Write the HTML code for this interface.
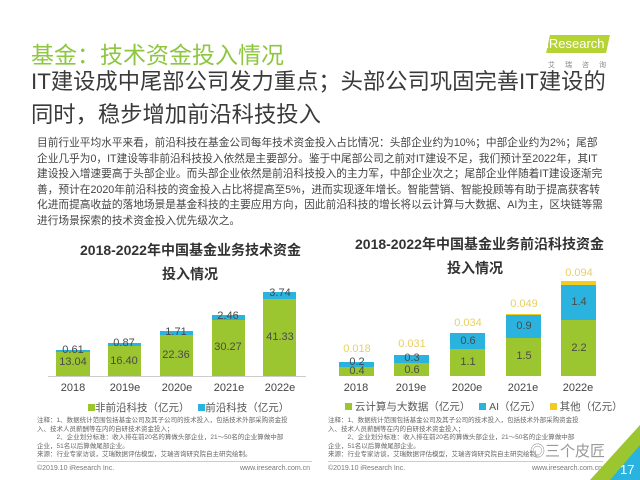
<!DOCTYPE html>
<html><head><meta charset="utf-8"><style>
*{margin:0;padding:0;box-sizing:border-box}
body{width:640px;height:480px;background:#fff;position:relative;overflow:hidden;font-family:"Liberation Sans","Noto Sans CJK SC",sans-serif;color:#404040}
.a{position:absolute;white-space:nowrap}
.bar{position:absolute}
.g{background:#9bc62f}.b{background:#2ab3de}.y{background:#f2cd20}
.v{position:absolute;font-size:11px;color:#4a4a4a;text-align:center;width:40px}
.xl{position:absolute;font-size:11px;color:#444;text-align:center;width:50px;top:382px}
.body div{height:15.6px;line-height:15.6px}
.note{font-size:6.5px;color:#666;line-height:8.5px}
</style></head><body>
<div class="a" style="left:31px;top:36px;font-size:23px;color:#8dc63f">基金：技术资金投入情况</div>
<div class="a" style="left:548px;top:35px;width:60px;height:18px;background:#b5d334;transform:skewX(-12deg)"></div>
<div class="a" style="left:546px;top:36px;font-size:13px;color:#fff">iResearch</div>
<div class="a" style="left:548px;top:60px;font-size:7px;color:#888;letter-spacing:10px">艾瑞咨询</div>
<div class="a" style="left:31px;top:65px;font-size:22.3px;color:#3a3a3a;line-height:33px">IT建设成中尾部公司发力重点；头部公司巩固完善IT建设的<br>同时，稳步增加前沿科技投入</div>
<div class="a body" style="left:37px;top:136px;font-size:10.7px;color:#444">
<div>目前行业平均水平来看，前沿科技在基金公司每年技术资金投入占比情况：头部企业约为10%；中部企业约为2%；尾部</div>
<div>企业几乎为0，IT建设等非前沿科技投入依然是主要部分。鉴于中尾部公司之前对IT建设不足，我们预计至2022年，其IT</div>
<div>建设投入增速要高于头部企业。而头部企业依然是前沿科技投入的主力军，中部企业次之；尾部企业伴随着IT建设逐渐完</div>
<div>善，预计在2020年前沿科技的资金投入占比将提高至5%，进而实现逐年增长。智能营销、智能投顾等有助于提高获客转</div>
<div>化进而提高收益的落地场景是基金科技的主要应用方向，因此前沿科技的增长将以云计算与大数据、AI为主，区块链等需</div>
<div>进行场景探索的技术资金投入优先级次之。</div>
</div>
<!-- left chart -->
<div class="a" style="left:80px;top:238px;width:220px;text-align:center;font-size:14px;font-weight:bold;color:#333;line-height:24px">2018-2022年中国基金业务技术资金<br>投入情况</div>
<div class="bar g" style="left:56px;top:352px;width:34px;height:24px"></div><div class="bar b" style="left:56px;top:350px;width:34px;height:2px"></div>
<div class="bar g" style="left:108px;top:346px;width:33px;height:30px"></div><div class="bar b" style="left:108px;top:343px;width:33px;height:3px"></div>
<div class="bar g" style="left:160px;top:335px;width:33px;height:41px"></div><div class="bar b" style="left:160px;top:331px;width:33px;height:4px"></div>
<div class="bar g" style="left:212px;top:320px;width:33px;height:56px"></div><div class="bar b" style="left:212px;top:315px;width:33px;height:5px"></div>
<div class="bar g" style="left:263px;top:299px;width:33px;height:77px"></div><div class="bar b" style="left:263px;top:292px;width:33px;height:7px"></div>
<div class="a" style="left:48px;top:376px;width:258px;height:1px;background:#ccc"></div>
<div class="v" style="left:53px;top:344px">0.61</div><div class="v" style="left:53px;top:356px">13.04</div>
<div class="v" style="left:104px;top:337px">0.87</div><div class="v" style="left:104px;top:355px">16.40</div>
<div class="v" style="left:156px;top:326px">1.71</div><div class="v" style="left:156px;top:349px">22.36</div>
<div class="v" style="left:208px;top:310px">2.46</div><div class="v" style="left:208px;top:341px">30.27</div>
<div class="v" style="left:260px;top:287px">3.74</div><div class="v" style="left:260px;top:331px">41.33</div>
<div class="xl" style="left:48px">2018</div><div class="xl" style="left:100px">2019e</div><div class="xl" style="left:152px">2020e</div><div class="xl" style="left:204px">2021e</div><div class="xl" style="left:255px">2022e</div>
<div class="a" style="left:88px;top:400px;font-size:10.5px;color:#555"><span style="display:inline-block;width:7px;height:7px;background:#9bc62f"></span>非前沿科技（亿元） &nbsp;&nbsp;<span style="display:inline-block;width:7px;height:7px;background:#2ab3de"></span>前沿科技（亿元）</div>
<div class="a note" style="left:37px;top:417px">注释：1、数据统计范围包括基金公司及其子公司的技术投入，包括技术外部采购资金投<br>入、技术人员薪酬等在内的自研技术资金投入；<br>　　　2、企业划分标准：收入排在前20名的算做头部企业，21～50名的企业算做中部<br>企业，51名以后算做尾部企业。<br>来源：行业专家访谈，艾瑞数据评估模型，艾瑞咨询研究院自主研究绘制。</div>
<div class="a" style="left:37px;top:461px;width:275px;height:1px;background:#ccc"></div>
<div class="a" style="left:37px;top:465px;font-size:7px;color:#777">©2019.10 iResearch Inc.</div>
<div class="a" style="left:240px;top:465px;font-size:7px;color:#777">www.iresearch.com.cn</div>
<!-- right chart -->
<div class="a" style="left:355px;top:232px;width:240px;text-align:center;font-size:14px;font-weight:bold;color:#333;line-height:24px">2018-2022年中国基金业务前沿科技资金<br>投入情况</div>
<div class="bar g" style="left:339px;top:367px;width:35px;height:9px"></div><div class="bar b" style="left:339px;top:362px;width:35px;height:5px"></div>
<div class="bar g" style="left:394px;top:363px;width:35px;height:13px"></div><div class="bar b" style="left:394px;top:355px;width:35px;height:8px"></div>
<div class="bar g" style="left:450px;top:349px;width:35px;height:27px"></div><div class="bar b" style="left:450px;top:333px;width:35px;height:16px"></div>
<div class="bar g" style="left:506px;top:338px;width:35px;height:38px"></div><div class="bar b" style="left:506px;top:315px;width:35px;height:23px"></div><div class="bar y" style="left:506px;top:314px;width:35px;height:1px"></div>
<div class="bar g" style="left:561px;top:320px;width:35px;height:56px"></div><div class="bar b" style="left:561px;top:285px;width:35px;height:35px"></div><div class="bar y" style="left:561px;top:281px;width:35px;height:4px"></div>
<div class="v" style="left:337px;top:356px">0.2</div><div class="v" style="left:337px;top:365px">0.4</div>
<div class="v" style="left:392px;top:352px">0.3</div><div class="v" style="left:392px;top:364px">0.6</div>
<div class="v" style="left:448px;top:335px">0.6</div><div class="v" style="left:448px;top:356px">1.1</div>
<div class="v" style="left:504px;top:320px">0.9</div><div class="v" style="left:504px;top:350px">1.5</div>
<div class="v" style="left:559px;top:296px">1.4</div><div class="v" style="left:559px;top:342px">2.2</div>
<div class="v" style="left:337px;top:343px;color:#e8d060">0.018</div>
<div class="v" style="left:392px;top:338px;color:#e8d060">0.031</div>
<div class="v" style="left:448px;top:317px;color:#e8d060">0.034</div>
<div class="v" style="left:504px;top:298px;color:#e8d060">0.049</div>
<div class="v" style="left:559px;top:267px;color:#e8d060">0.094</div>
<div class="xl" style="left:331px">2018</div><div class="xl" style="left:386px">2019e</div><div class="xl" style="left:442px">2020e</div><div class="xl" style="left:498px">2021e</div><div class="xl" style="left:553px">2022e</div>
<div class="a" style="left:345px;top:399px;font-size:10.5px;color:#555"><span style="display:inline-block;width:7px;height:7px;background:#9bc62f"></span> 云计算与大数据（亿元） &nbsp;&nbsp;<span style="display:inline-block;width:7px;height:7px;background:#2ab3de"></span> AI（亿元） &nbsp;&nbsp;<span style="display:inline-block;width:7px;height:7px;background:#f2cd20"></span> 其他（亿元）</div>
<div class="a note" style="left:328px;top:417px">注释：1、数据统计范围包括基金公司及其子公司的技术投入，包括技术外部采购资金投<br>入、技术人员薪酬等在内的自研技术资金投入；<br>　　　2、企业划分标准：收入排在前20名的算做头部企业，21～50名的企业算做中部<br>企业，51名以后算做尾部企业。<br>来源：行业专家访谈，艾瑞数据评估模型，艾瑞咨询研究院自主研究绘制。</div>
<div class="a" style="left:328px;top:461px;width:275px;height:1px;background:#ccc"></div>
<div class="a" style="left:328px;top:465px;font-size:7px;color:#777">©2019.10 iResearch Inc.</div>
<div class="a" style="left:532px;top:465px;font-size:7px;color:#777">www.iresearch.com.cn</div>
<div class="a" style="left:530px;top:440px;font-size:15px;color:#999">◎三个皮匠</div>
<svg class="a" style="left:590px;top:425px" width="50" height="55"><polygon points="50,0 50,55 0,55" fill="#9bc62f"/><polygon points="50,20 50,55 20,55" fill="#2ab3de"/></svg>
<div class="a" style="left:620px;top:462px;font-size:13px;color:#fff">17</div>
</body></html>
